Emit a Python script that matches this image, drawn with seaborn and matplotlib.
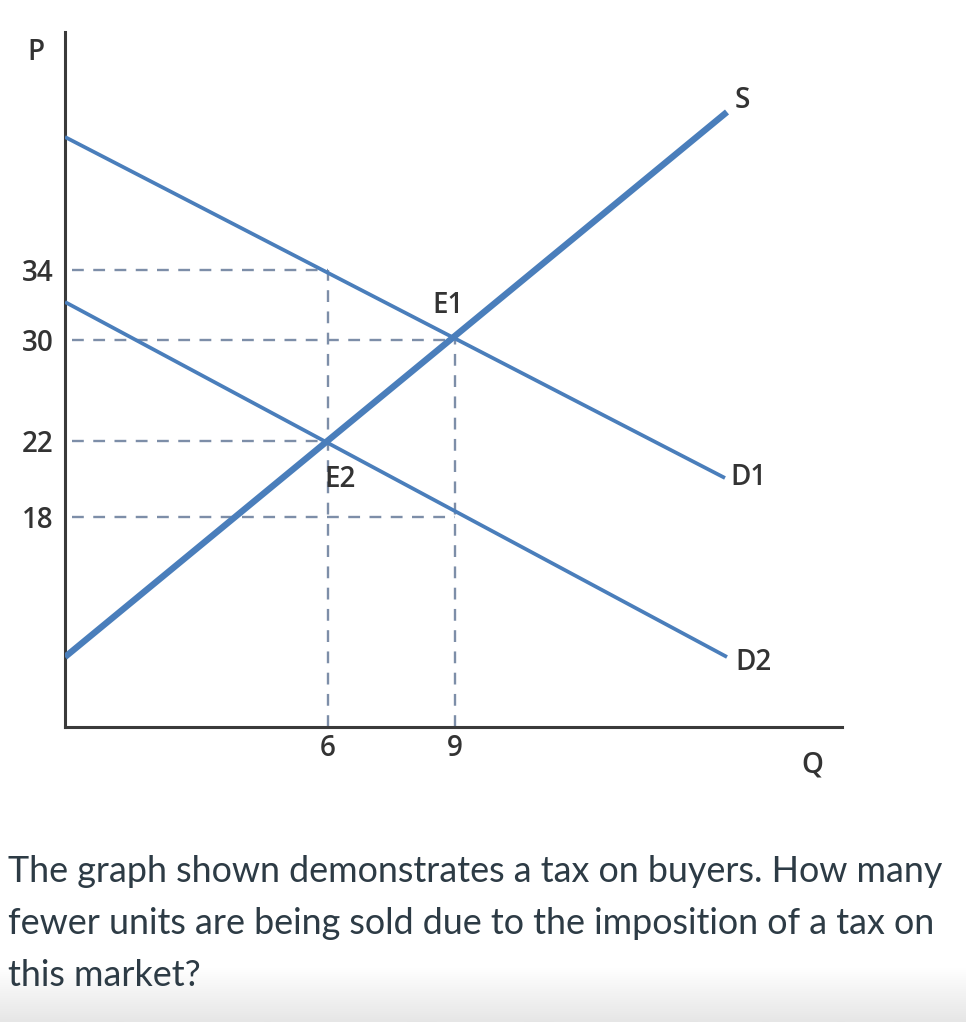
import numpy as np
import pandas as pd
import matplotlib
matplotlib.use("Agg")
import matplotlib.pyplot as plt
import seaborn as sns

# diagram units (schematic graph, axis drawn 777 x 695 units)
curve_names = ["D1", "D1", "D2", "D2", "S", "S"]
curve_q = [0, 660, 0, 662, 0, 662]
curve_p = [590, 249, 425, 70, 70, 615]

q_tick_pos = [263, 390]
q_tick_labels = ["6", "9"]
p_tick_pos = [457, 387, 286, 210]
p_tick_labels = ["34", "30", "22", "18"]

# guide lines: horizontal to the point on the curve, vertical down from it
h_guide_p = [457, 387, 286, 210]
h_guide_q = [263, 392, 263, 390]
v_guide_q = [263, 390]
v_guide_p = [457, 387]

eq_names = ["E1", "E2"]
eq_label_q = [383, 275]
eq_label_p = [422, 248]

question = ["The graph shown demonstrates a tax on buyers. How many",
            "fewer units are being sold due to the imposition of a tax on",
            "this market?"]

curves = pd.DataFrame({"curve": curve_names, "Q": curve_q, "P": curve_p})

sns.set_style("white")
plt.rcParams["font.family"] = ["Open Sans", "DejaVu Sans"]

fig = plt.figure(figsize=(9.66, 10.22), dpi=100)

# faint grey fade at the bottom of the page
bg = fig.add_axes([0, 0, 1, 55 / 1022], zorder=-5)
grad = np.linspace(1.0, 0.0, 50).reshape(-1, 1)
bg.imshow(grad, aspect="auto", cmap=sns.blend_palette(["#e6e6e6", "#ffffff"], as_cmap=True),
          extent=[0, 1, 0, 1], origin="upper")
bg.axis("off")

ax = fig.add_axes([65 / 966, 295 / 1022, 777 / 966, 695 / 1022])
blue = "#4a7ebb"
guide = "#7d8ea8"

for name, lw in [("D1", 2.7), ("D2", 2.7), ("S", 4.6)]:
    sns.lineplot(data=curves[curves["curve"] == name], x="Q", y="P", ax=ax,
                 color=blue, linewidth=lw, sort=False, estimator=None,
                 solid_capstyle="butt", zorder=3)

for p, q in zip(h_guide_p, h_guide_q):
    ax.plot([7, q], [p, p], color=guide, lw=1.7, dashes=(5, 4), zorder=2)
for q, p in zip(v_guide_q, v_guide_p):
    ax.plot([q, q], [0, p], color=guide, lw=1.7, dashes=(5, 4), zorder=2)

txt = "#333333"
lab = dict(fontsize=20, color=txt, ha="center", va="center", fontweight="semibold")
ax.text(677, 627, "S", **lab)
ax.text(683, 250, "D1", **lab)
ax.text(688, 65, "D2", **lab)
for name, q, p in zip(eq_names, eq_label_q, eq_label_p):
    ax.text(q, p, name, **lab)
ax.text(-29, 675, "P", clip_on=False, **lab)
ax.text(747, -38, "Q", clip_on=False, **lab)

ax.set_xlim(0, 777)
ax.set_ylim(0, 695)
ax.set_xticks(q_tick_pos)
ax.set_xticklabels(q_tick_labels, fontweight="semibold")
ax.set_yticks(p_tick_pos)
ax.set_yticklabels(p_tick_labels, fontweight="semibold")
ax.tick_params(length=0, labelsize=20, labelcolor=txt)
ax.tick_params(axis="y", pad=8)
ax.tick_params(axis="x", pad=5)
ax.set_xlabel("")
ax.set_ylabel("")
sns.despine(ax=ax)
for side in ["left", "bottom"]:
    ax.spines[side].set_color("#3a3a3a")
    ax.spines[side].set_linewidth(2.2)

for i, line in enumerate(question):
    fig.text(8 / 966, 1 - (882 + 52 * i) / 1022, line, fontsize=25.8, color="#2d3b45",
             family=["Lato", "DejaVu Sans"], va="baseline", ha="left")

fig.savefig("out.png", dpi=100, facecolor="white")
